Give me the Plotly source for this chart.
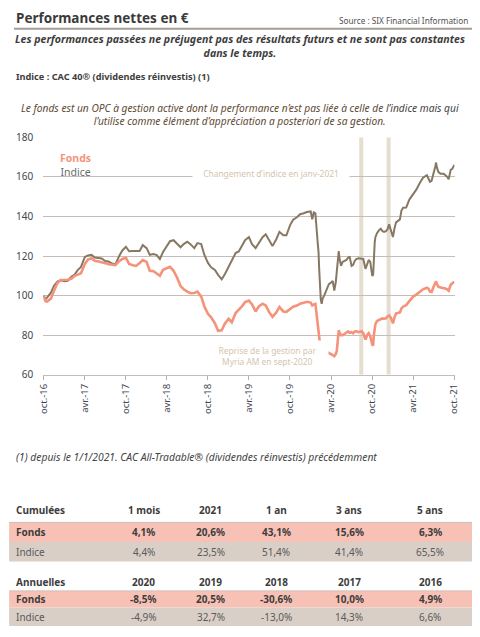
import plotly.graph_objects as go

# la page a une marge de 8 px : la figure est réduite d'autant
OFF = 8
W, H = 480 - OFF, 637 - OFF
FONT = "Noto Sans, sans-serif"

# --- données (base 100) ---
dates = [
    "2016-09-30", "2016-10-08", "2016-10-15", "2016-11-01", "2016-11-15", "2016-12-01", "2016-12-15",
    "2017-01-01", "2017-01-15", "2017-02-01", "2017-02-15", "2017-03-01", "2017-03-15", "2017-04-01",
    "2017-04-15", "2017-05-01", "2017-05-15", "2017-06-01", "2017-06-15", "2017-07-01", "2017-07-15",
    "2017-08-01", "2017-08-15", "2017-09-01", "2017-09-15", "2017-10-01", "2017-10-15", "2017-11-01",
    "2017-11-15", "2017-12-01", "2017-12-15", "2018-01-01", "2018-01-15", "2018-02-01", "2018-02-15",
    "2018-03-01", "2018-03-15", "2018-04-01", "2018-04-15", "2018-05-01", "2018-05-15", "2018-06-01",
    "2018-06-15", "2018-07-01", "2018-07-15", "2018-08-01", "2018-08-15", "2018-09-01", "2018-09-15",
    "2018-10-01", "2018-10-15", "2018-11-01", "2018-11-15", "2018-12-01", "2018-12-15", "2019-01-01",
    "2019-01-15", "2019-02-01", "2019-02-15", "2019-03-01", "2019-03-15", "2019-04-01", "2019-04-15",
    "2019-05-01", "2019-05-15", "2019-06-01", "2019-06-15", "2019-07-01", "2019-07-15", "2019-08-01",
    "2019-08-15", "2019-09-01", "2019-09-15", "2019-10-01", "2019-10-15", "2019-11-01", "2019-11-15",
    "2019-12-01", "2019-12-15", "2020-01-01", "2020-01-08", "2020-01-15", "2020-01-22", "2020-02-01",
    "2020-02-05", "2020-02-08", "2020-02-12", "2020-02-15", "2020-02-19", "2020-02-23", "2020-03-01",
    "2020-03-08", "2020-03-15", "2020-03-22", "2020-04-01", "2020-04-08", "2020-04-15", "2020-04-22",
    "2020-04-26", "2020-05-01", "2020-05-05", "2020-05-08", "2020-05-15", "2020-05-22", "2020-06-01",
    "2020-06-08", "2020-06-15", "2020-06-22", "2020-07-01", "2020-07-08", "2020-07-15", "2020-07-22",
    "2020-08-01", "2020-08-15", "2020-08-22", "2020-09-01", "2020-09-08", "2020-09-15", "2020-09-22",
    "2020-10-01", "2020-10-05", "2020-10-08", "2020-10-12", "2020-10-15", "2020-10-22", "2020-11-01",
    "2020-11-08", "2020-11-15", "2020-11-22", "2020-12-01", "2020-12-08", "2020-12-15", "2020-12-22",
    "2021-01-01", "2021-01-08", "2021-01-15", "2021-02-01", "2021-02-08", "2021-02-15", "2021-03-01",
    "2021-03-15", "2021-04-01", "2021-04-15", "2021-05-01", "2021-05-15", "2021-06-01", "2021-06-08",
    "2021-06-15", "2021-06-22", "2021-07-01", "2021-07-08", "2021-07-12", "2021-07-15", "2021-07-22",
    "2021-08-01", "2021-08-15", "2021-08-22", "2021-09-01", "2021-09-06", "2021-09-15", "2021-09-22",
    "2021-10-01",
]

indice = [
    100.0, 98.2, 99.0, 101.5, 105.0, 107.2, 107.7,
    107.3, 107.5, 109.6, 110.6, 113.0, 114.5, 119.5,
    120.3, 120.6, 119.2, 118.8, 118.8, 117.5, 117.2,
    116.2, 115.8, 120.0, 122.8, 124.7, 122.4, 122.5,
    122.4, 122.5, 125.5, 124.0, 120.6, 121.0, 120.5,
    118.5, 122.0, 124.9, 127.5, 128.0, 126.5, 124.4,
    126.0, 127.2, 126.0, 124.0, 126.5, 126.0, 120.5,
    116.5, 114.3, 113.0, 110.5, 108.2, 110.8, 114.8,
    118.0, 121.5, 122.3, 124.8, 128.0, 129.6, 126.0,
    124.0, 126.5, 129.5, 131.0, 127.5, 125.0, 128.5,
    132.2, 130.5, 130.5, 135.5, 138.3, 139.6, 141.1,
    141.6, 142.2, 142.5, 138.5, 142.0, 141.5, 127.0,
    122.0, 113.0, 104.0, 98.0, 95.9, 98.5, 100.0,
    102.0, 104.0, 105.8, 106.6, 107.4, 102.5, 107.0,
    112.0, 117.0, 122.5, 119.0, 115.0, 117.0, 117.5,
    118.0, 119.0, 119.8, 115.0, 115.5, 117.5, 118.5,
    118.9, 118.5, 118.5, 113.5, 116.0, 118.0, 117.0,
    110.0, 110.5, 121.0, 127.0, 129.5, 131.5, 133.2,
    133.8, 132.6, 132.2, 132.6, 133.5, 136.0, 133.0,
    129.6, 134.0, 137.0, 138.5, 143.0, 144.4, 144.5,
    148.5, 151.0, 153.5, 157.0, 159.6, 160.8, 159.5,
    157.5, 158.0, 161.5, 165.0, 167.2, 165.0, 162.5,
    161.5, 161.5, 160.8, 159.8, 158.8, 163.5, 164.0,
    166.0,
]

fonds = [
    99.5, 97.2, 97.0, 98.5, 102.5, 106.5, 107.9,
    107.8, 108.0, 108.6, 110.0, 110.6, 111.3, 116.0,
    118.2, 118.9, 117.6, 117.2, 116.9, 116.4, 115.8,
    115.5, 115.4, 117.4, 118.5, 119.1, 116.0, 115.3,
    115.0, 116.5, 118.0, 117.0, 112.5, 112.3, 111.0,
    110.0, 113.0, 114.0, 114.5, 112.5, 109.5, 104.8,
    103.2, 102.0, 101.2, 101.3, 102.0, 99.5, 94.5,
    90.8, 89.0, 86.0, 82.2, 82.5, 85.8, 88.3,
    86.5, 91.2, 92.8, 94.6, 96.7, 97.5, 95.5,
    92.0, 94.5, 95.9, 95.0, 91.5, 89.3, 91.5,
    94.3, 92.0, 91.8, 93.4, 94.4, 95.0, 95.9,
    96.4, 96.9, 96.5, 95.0, 95.5, 95.8, 86.0,
    82.0, 78.0, 74.0, 72.0, 71.0, 71.5, 72.0,
    71.5, 71.5, 71.0, 70.6, 70.0, 69.4, 70.5,
    72.0, 77.8, 82.5, 81.5, 80.0, 80.0, 80.7,
    81.0, 81.9, 81.2, 81.5, 81.0, 81.9, 82.0,
    81.5, 82.0, 81.0, 77.8, 80.0, 81.0, 79.5,
    75.3, 74.8, 80.0, 84.0, 85.5, 87.2, 87.8,
    88.0, 88.5, 88.3, 88.5, 89.5, 90.0, 89.0,
    86.0, 89.0, 91.0, 91.5, 93.5, 94.4, 95.2,
    97.2, 99.5, 100.5, 102.0, 103.2, 104.0, 103.5,
    102.0, 101.8, 104.5, 106.5, 107.2, 106.0, 104.5,
    104.1, 104.0, 103.6, 103.0, 102.5, 105.5, 106.0,
    107.0,
]

tick_vals = ["2016-10-01", "2017-04-01", "2017-10-01", "2018-04-01", "2018-10-01", "2019-04-01",
             "2019-10-01", "2020-04-01", "2020-10-01", "2021-04-01", "2021-10-01"]
tick_text = ["oct.-16", "avr.-17", "oct.-17", "avr.-18", "oct.-18", "avr.-19",
             "oct.-19", "avr.-20", "oct.-20", "avr.-21", "oct.-21"]

# reprise de la gestion / changement d'indice
event_dates = ["2020-08-13", "2020-12-13"]

cum_cols = ["1 mois", "2021", "1 an", "3 ans", "5 ans"]
cum_fonds = ["4,1%", "20,6%", "43,1%", "15,6%", "6,3%"]
cum_indice = ["4,4%", "23,5%", "51,4%", "41,4%", "65,5%"]
ann_cols = ["2020", "2019", "2018", "2017", "2016"]
ann_fonds = ["-8,5%", "20,5%", "-30,6%", "10,0%", "4,9%"]
ann_indice = ["-4,9%", "32,7%", "-13,0%", "14,3%", "6,6%"]

C_FONDS = "#f4937a"
C_INDICE = "#877864"
C_GRID = "#c6beb6"
C_TEXT = "#3d3d3d"
C_TAN = "#d6c4ad"


# positions en pixels de la page -> coordonnées "paper"
def px(x):
    return (x - OFF) / W


def py(y):
    return 1 - (y - OFF) / H


fig = go.Figure()

fig.add_trace(go.Scatter(x=dates, y=indice, name="Indice", mode="lines",
                         line=dict(color=C_INDICE, width=2)))
fig.add_trace(go.Scatter(x=dates, y=fonds, name="Fonds", mode="lines",
                         line=dict(color=C_FONDS, width=2.6)))

for d in event_dates:
    fig.add_shape(type="line", xref="x", yref="y", x0=d, x1=d, y0=60, y1=180,
                  line=dict(color="#e6ddd1", width=4), layer="below")


def txt(x, y, s, size=10, color=C_TEXT, bold=False, italic=False, xanchor="left", **kw):
    fig.add_annotation(x=px(x), y=py(y), xref="paper", yref="paper", text=s, showarrow=False,
                       xanchor=xanchor, yanchor="middle",
                       font=dict(family=FONT, size=size, color=color,
                                 weight="bold" if bold else "normal",
                                 style="italic" if italic else "normal"), **kw)


# en-tête
txt(8, 11, "Performances nettes en €", size=13.5, bold=True, color="#3a3a3a")
txt(476, 14, "Source : SIX Financial Information", size=8.2, color="#505050", xanchor="right")
fig.add_shape(type="line", xref="paper", yref="paper", x0=0, x1=1, y0=py(22), y1=py(22),
              line=dict(color="#a59e96", width=2))
txt(240, 40, "Les performances passées ne préjugent pas des résultats futurs et ne sont pas constantes"
             "<br>dans le temps.", size=10.6, bold=True, italic=True, xanchor="center")
txt(8, 71, "Indice : CAC 40® (dividendes réinvestis) (1)", size=9.2, bold=True)
txt(240, 110, "Le fonds est un OPC à gestion active dont la performance n’est pas liée à celle de "
              "<span style='color:#444444'>l’indice mais qui</span>"
              "<br>l’utilise comme élément d’appréciation a posteriori de sa gestion.",
    size=10.2, italic=True, color="#5e4a33", xanchor="center")

# légende et commentaires du graphique
txt(53, 161, f"<b><span style='color:{C_FONDS}'>Fonds</span></b><br>"
             "<span style='color:#6a6a6a'>Indice</span>", size=10.5)
txt(272, 170, "Changement d’indice en janv-2021", size=8.4, color=C_TAN, xanchor="center",
    bgcolor="white", width=156, height=14, borderpad=0)
txt(268.5, 357, "Reprise de la gestion par<br>Myria AM en sept-2020", size=8.4, color=C_TAN,
    xanchor="center", bgcolor="white", width=121, height=30, borderpad=0)

# note
txt(8, 460, "(1) depuis le 1/1/2021. CAC All-Tradable® (dividendes réinvestis) précédemment",
    size=10.3, italic=True, color="#444444")

# tableaux
col_x = [141, 210, 277, 352, 435]


def table(y_head, y_f0, y_f1, y_i1, title, cols, vals_f, vals_i):
    fig.add_shape(type="rect", xref="paper", yref="paper", x0=px(3), x1=px(478),
                  y0=py(y_f1), y1=py(y_f0), fillcolor="#f8c1b5", line_width=0)
    fig.add_shape(type="rect", xref="paper", yref="paper", x0=px(3), x1=px(478),
                  y0=py(y_i1), y1=py(y_f1), fillcolor="#d9cfc7", line_width=0)
    fig.add_shape(type="line", xref="paper", yref="paper", x0=px(3), x1=px(478),
                  y0=py(y_f0), y1=py(y_f0), line=dict(color="#cdbfb7", width=1))
    yf = (y_f0 + y_f1) / 2
    yi = (y_f1 + y_i1) / 2
    txt(8, y_head, title, size=10, bold=True)
    txt(8, yf, "Fonds", size=10, bold=True)
    txt(8, yi, "Indice", size=10, color="#5a5a5a")
    for x, c, f, i in zip(col_x, cols, vals_f, vals_i):
        txt(x, y_head, c, size=10, bold=True, xanchor="center")
        txt(x, yf, f, size=10, bold=True, xanchor="center")
        txt(x, yi, i, size=10, color="#5a5a5a", xanchor="center")


table(514, 527, 547, 567, "Cumulées", cum_cols, cum_fonds, cum_indice)
table(588, 597, 614, 633, "Annuelles", ann_cols, ann_fonds, ann_indice)

fig.update_layout(
    width=W, height=H,
    margin=dict(l=0, r=0, t=0, b=0),
    paper_bgcolor="white", plot_bgcolor="white",
    showlegend=False,
    font=dict(family=FONT, color=C_TEXT),
    xaxis=dict(domain=[px(38), px(460)], range=["2016-09-28", "2021-10-02"],
               tickvals=tick_vals, ticktext=tick_text, tickangle=-90,
               tickfont=dict(size=9.5, color="#404650"),
               ticks="outside", ticklen=4, tickcolor="#b8b0a8",
               showgrid=False, showline=True, linecolor=C_GRID, linewidth=1.3, zeroline=False),
    yaxis=dict(domain=[py(376), py(133)], range=[60, 180], dtick=20,
               tickfont=dict(size=10, color="#404650"),
               showgrid=True, gridcolor=C_GRID, gridwidth=1.3, zeroline=False,
               ticklabelstandoff=9),
)

fig.write_html("out.html")
